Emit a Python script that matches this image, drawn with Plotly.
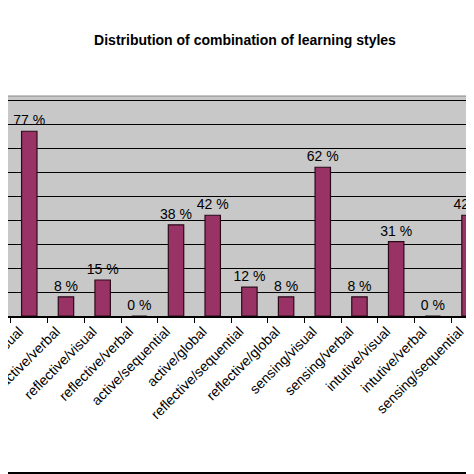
import plotly.graph_objects as go

categories = ["active/visual", "active/verbal", "reflective/visual", "reflective/verbal",
              "active/sequential", "active/global", "reflective/sequential", "reflective/global",
              "sensing/visual", "sensing/verbal", "intutive/visual", "intutive/verbal",
              "sensing/sequential"]
values = [77, 8, 15, 0, 38, 42, 12, 8, 62, 8, 31, 0, 42]
labels = [f"{v} %" for v in values]

fig = go.Figure(go.Bar(
    x=categories, y=values, text=labels, textposition="outside",
    constraintext="none",
    textfont=dict(size=14, color="black", family="Liberation Sans"),
    marker=dict(color="#993366", line=dict(color="#2a0a18", width=1.2)),
    width=0.42, cliponaxis=False,
))
fig.update_layout(
    width=474, height=474, margin=dict(l=0, r=0, t=88, b=166, autoexpand=False),
    paper_bgcolor="white", plot_bgcolor="#c8c8c8",
    title=dict(text="<b>Distribution of combination of learning styles</b>",
               x=0.5, xanchor="center", y=1 - 32/474, yanchor="middle",
               font=dict(size=14, family="Liberation Sans", color="black")),
    showlegend=False,
    xaxis=dict(range=[-0.58, 12.34], tickangle=-45, tickson="boundaries",
               ticks="outside", ticklen=5, tickcolor="black", showline=True,
               linecolor="black", linewidth=1.5, showgrid=False, automargin=False,
               ticklabelshift=-10,
               tickfont=dict(size=14, family="Liberation Sans", color="black")),
    yaxis=dict(range=[0, 91.7], dtick=10, showticklabels=False, showgrid=True,
               gridcolor="black", gridwidth=1, zeroline=False, automargin=False),
    shapes=[dict(type="line", xref="paper", yref="paper", x0=0, x1=1,
                 y0=-0.714, y1=-0.714, line=dict(color="black", width=2)),
            dict(type="line", xref="paper", yref="paper", x0=0, x1=1,
                 y0=1, y1=1, line=dict(color="#888", width=1))],
)
fig.write_html("out.html")
